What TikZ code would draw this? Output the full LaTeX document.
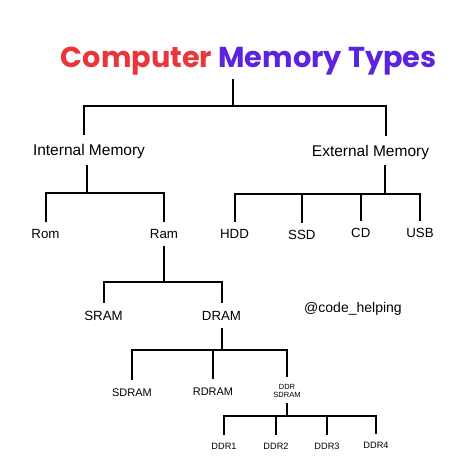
\documentclass[tikz,border=0pt]{standalone}
\usepackage{fontspec}
\setmainfont{Liberation Sans}
\newfontfamily\titlefont{Poppins}
\definecolor{tred}{HTML}{E8363B}
\definecolor{tpurple}{HTML}{5B23DF}
\begin{document}
\begin{tikzpicture}[x=1pt,y=-1pt,
  edge/.style={line width=2pt, line cap=butt, line join=miter},
  lab/.style={anchor=base, inner sep=0pt, text depth=0pt},
  big/.style={lab, font=\fontsize{15.5}{18}\selectfont},
  mid/.style={lab, font=\fontsize{13.3}{16}\selectfont},
  sml/.style={lab, font=\fontsize{11}{13}\selectfont},
  tiny/.style={lab, font=\fontsize{9.2}{11}\selectfont}]
\useasboundingbox (0,0) rectangle (474,474);
\fill[white] (0,0) rectangle (474,474);

% title
\node[lab, font=\titlefont\bfseries\fontsize{28.8}{32}\selectfont] (title) at (248.7,67)
  {\textcolor{tred}{Computer} \textcolor{tpurple}{Memory Types}};

% level 1
\node[big] (im) at (89,155.7) {Internal Memory};
\node[big] (ex) at (370.5,156) {External Memory};
\coordinate (j0) at (233,106);
\coordinate (b0l) at (84,106);
\coordinate (b0r) at (386,106);
\draw[edge, shorten <=12pt] (title.south -| j0) -- (j0);
\draw[edge, shorten <=9pt, shorten >=9pt] (im.north -| b0l) -- (b0l) -- (b0r) -- (ex.north -| b0r);

% internal memory
\node[mid] (rom) at (45.5,238.3) {Rom};
\node[mid] (ram) at (164,238.3) {Ram};
\coordinate (j1) at (87,193);
\draw[edge, shorten <=9pt] (im.south -| j1) -- (j1);
\draw[edge, shorten <=7pt, shorten >=7pt] (rom.north) |- (j1) -| (ram.north);

% external memory
\node[mid] (hdd) at (234.5,238.5) {HDD};
\node[mid] (ssd) at (301.8,239) {SSD};
\node[mid] (cd) at (360.8,237.8) {CD};
\node[mid] (usb) at (420,237.8) {USB};
\coordinate (j2) at (385,194);
\draw[edge, shorten <=9pt] (ex.south -| j2) -- (j2);
\draw[edge, shorten <=7pt, shorten >=7pt] (hdd.north) |- (j2) -| (usb.north);
\draw[edge, shorten <=7pt] (ssd.north) -- (ssd.north |- j2);
\draw[edge, shorten <=7pt] (cd.north) -- (cd.north |- j2);

% ram
\node[mid] (sram) at (103.5,320) {SRAM};
\node[mid] (dram) at (221.5,320) {DRAM};
\coordinate (j3) at (163.5,282);
\draw[edge, shorten <=7pt] (ram.south -| j3) -- (j3);
\draw[edge, shorten <=8pt, shorten >=8pt] (sram.north) |- (j3) -| (dram.north);

\node[lab, font=\fontsize{14}{16}\selectfont] (tag) at (353,312.7) {@code\_helping};

% dram
\node[sml] (sdram) at (132,396.7) {SDRAM};
\node[sml] (rdram) at (213,395.5) {RDRAM};
\node[inner sep=0pt, anchor=north, align=center, font=\fontsize{7.5}{8}\selectfont] (ddr) at (287,384) {DDR\\SDRAM};
\coordinate (j4) at (221.5,350);
\draw[edge, shorten <=8pt] (dram.south -| j4) -- (j4);
\draw[edge, shorten <=9pt, shorten >=7pt] (sdram.north) |- (j4) -| (ddr.north);
\draw[edge, shorten <=9pt] (rdram.north) -- (rdram.north |- j4);

% ddr sdram
\node[tiny] (d1) at (224,449.3) {DDR1};
\node[tiny] (d2) at (276,449.3) {DDR2};
\node[tiny] (d3) at (327,449.3) {DDR3};
\node[tiny] (d4) at (376,448.8) {DDR4};
\coordinate (j5) at (287,416);
\draw[edge, shorten <=5pt] (ddr.south) -- (ddr.south |- j5);
\draw[edge, shorten <=8pt, shorten >=8pt] (d1.north) |- (j5) -| (d4.north);
\draw[edge, shorten <=8pt] (d2.north) -- (d2.north |- j5);
\draw[edge, shorten <=8pt] (d3.north) -- (d3.north |- j5);
\end{tikzpicture}
\end{document}
